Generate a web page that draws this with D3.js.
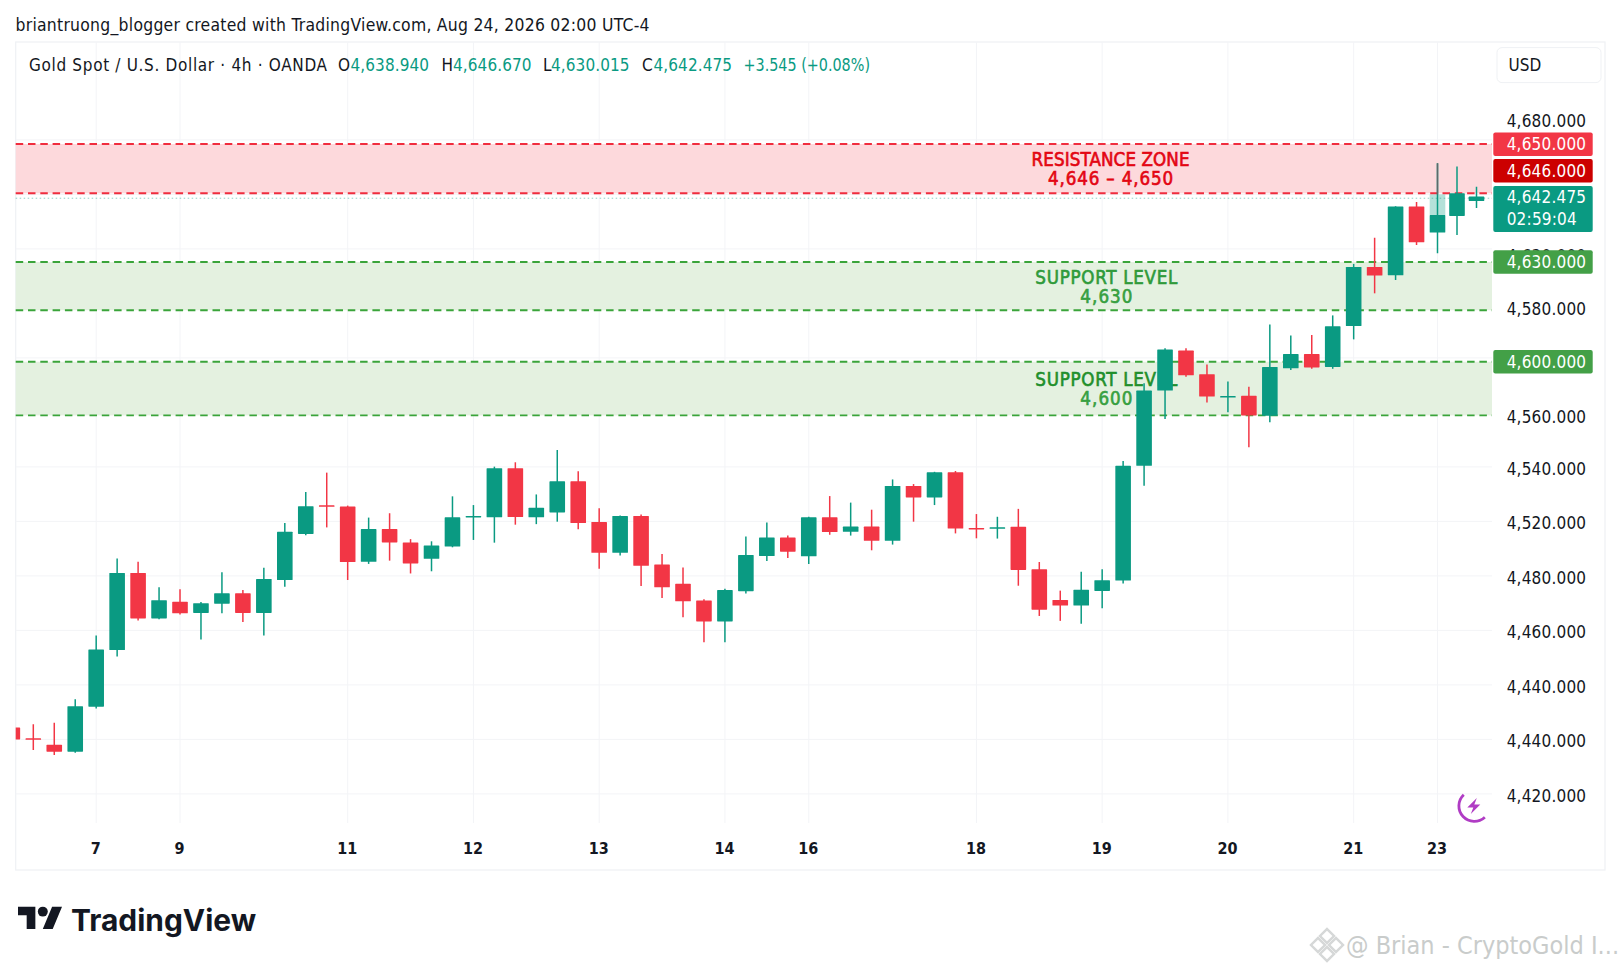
<!DOCTYPE html>
<html><head><meta charset="utf-8">
<style>
html,body{margin:0;padding:0;background:#fff}
svg{display:block}
text{font-family:"DejaVu Sans Condensed","DejaVu Sans",sans-serif;font-stretch:condensed}
</style>
<script src="https://cdn.jsdelivr.net/npm/d3@7/dist/d3.min.js"></script>
</head><body><svg id="c" width="1621" height="970"></svg>
<script>
// Candle values are on the chart's visual price scale.
const candleColor = ["r","r","r","g","g","g","r","g","r","g","g","r","g","g","g","r","r","g","r","r","g","g","g","g","r","g","g","r","r","g","r","r","r","r","g","g","g","r","g","r","g","r","g","r","g","r","r","g","r","r","r","g","g","g","g","g","r","r","g","r","g","g","r","g","g","r","g","r","g","g","g"];
const bodyTop = [4444.8,4440.8,4438.4,4452.6,4473.4,4501.5,4501.5,4491.5,4490.9,4490.4,4494.0,4494.0,4499.3,4516.6,4526.0,4526.3,4525.9,4517.6,4517.6,4512.7,4511.6,4521.9,4522.4,4539.9,4539.9,4525.4,4535.1,4535.1,4520.2,4522.4,4522.4,4504.6,4497.5,4491.4,4495.2,4508.1,4514.5,4514.5,4521.9,4521.9,4518.5,4518.5,4533.4,4533.4,4538.4,4538.4,4518.0,4518.3,4518.4,4502.8,4491.6,4495.3,4498.8,4540.8,4568.4,4583.5,4583.1,4574.4,4566.4,4566.5,4577.1,4581.8,4581.8,4592.0,4613.8,4613.8,4636.0,4636.0,4632.8,4640.8,4639.6];
const bodyBottom = [4440.4,4440.4,4435.9,4435.9,4452.4,4473.2,4484.8,4484.8,4486.7,4486.8,4490.2,4486.8,4486.8,4498.9,4515.8,4525.8,4505.5,4505.6,4512.7,4505.0,4506.7,4511.2,4521.9,4521.9,4522.0,4521.9,4523.7,4519.8,4508.9,4508.9,4504.1,4496.2,4491.1,4483.7,4483.7,4494.8,4507.7,4509.3,4507.6,4516.5,4516.6,4513.3,4513.3,4529.2,4529.2,4517.8,4517.6,4517.7,4502.6,4488.0,4489.5,4489.5,4494.9,4498.7,4540.8,4568.4,4574.0,4566.2,4566.2,4559.3,4559.2,4576.6,4576.9,4577.1,4592.1,4610.6,4610.7,4622.8,4626.4,4632.5,4638.0];
const wickHigh = [4444.8,4446.0,4446.5,4455.1,4478.5,4506.8,4505.6,4496.2,4495.5,4490.8,4501.7,4495.2,4503.4,4519.8,4531.2,4538.3,4526.2,4521.8,4523.4,4513.9,4513.1,4529.6,4526.4,4540.5,4542.1,4530.3,4546.6,4538.8,4525.2,4522.6,4522.9,4508.4,4503.5,4491.8,4495.7,4514.9,4520.0,4515.2,4522.1,4529.7,4527.3,4524.7,4535.8,4534.1,4538.6,4538.9,4523.1,4522.1,4525.0,4505.5,4495.0,4501.9,4502.8,4542.6,4571.1,4583.9,4583.9,4578.0,4571.7,4569.8,4592.7,4588.6,4588.8,4596.0,4614.9,4624.5,4636.1,4637.6,4651.8,4650.6,4643.2];
const wickLow = [4440.4,4436.5,4434.7,4435.5,4451.7,4470.8,4484.0,4484.5,4486.2,4477.1,4486.7,4483.5,4478.5,4496.4,4515.3,4518.2,4498.9,4504.8,4506.0,4501.3,4502.1,4510.9,4513.6,4512.6,4519.2,4519.4,4520.3,4517.5,4503.0,4507.9,4496.7,4492.3,4485.2,4476.1,4476.1,4493.9,4505.9,4507.0,4504.8,4515.5,4515.2,4509.8,4511.9,4520.3,4526.4,4516.0,4514.2,4514.1,4496.8,4485.7,4483.9,4482.8,4488.5,4497.6,4533.5,4558.0,4573.5,4564.0,4560.5,4547.6,4556.8,4576.0,4576.4,4576.4,4587.2,4604.1,4609.0,4621.8,4618.8,4625.5,4635.4];

const timeTickIndex = [4,8,16,22,28,34,38,46,52,58,64,68];
const timeTickLabels = ["7","9","11","12","13","14","16","18","19","20","21","23"];
const gridPrices = [4420.4,4440.4,4460.4,4480.4,4500.4,4520.4,4540.4,4560.4,4580.4,4600.4,4620.4,4640.4,4660.4];
const axisPrices = [4420.4,4440.4,4460.4,4480.4,4500.4,4520.4,4540.4,4559.6,4599.2,4618.5,4667.9];
const axisLabels = ["4,420.000","4,440.000","4,440.000","4,460.000","4,480.000","4,520.000","4,540.000","4,560.000","4,580.000","4,630.000","4,680.000"];

const zoneTop = [4658.9,4615.6,4579.0];
const zoneBottom = [4640.8,4597.9,4559.3];
const zoneKind = ["res","sup","sup"];
const zoneTitle = ["RESISTANCE ZONE","SUPPORT LEVEL","SUPPORT LEVEL"];
const zoneValue = ["4,646 – 4,650","4,630","4,600"];
const zoneTitleColor = ["#e30613","#2f9a3a","#1f8f2b"];
const zoneValueColor = ["#e30613","#37a041","#37a041"];
const zoneTitleIndex = [52.4,52.2,52.2];

const tagPrice = [4658.8,4649.1,4615.6,4579.0];
const tagText = ["4,650.000","4,646.000","4,630.000","4,600.000"];
const tagColor = ["#f23645","#cc0000","#43a047","#43a047"];
const lastPrice = 4639;
const lastLabel = ["4,642.475","02:59:04"];
const lastTagTop = 4643.5, lastTagBottom = 4626.6;
const ghostTop = 4640.4, ghostBottom = 4632.8, ghostIndex = 68;

const headerLeft = "briantruong_blogger created with TradingView.com, Aug 24, 2026 02:00 UTC-4";
const symbolTitle = "Gold Spot / U.S. Dollar · 4h · OANDA";
const ohlcKeys = ["O","H","L","C"];
const ohlcValues = ["4,638.940","4,646.670","4,630.015","4,642.475"];
const ohlcChange = "+3.545 (+0.08%)";

const L=15.7,R=1605,T=42,B=870,AX=1492,PB=823;
const up="#0a9a82", dn="#f23645", ink="#131722", grid="#f3f4f7";
const svg=d3.select("#c");
const x=d3.scaleLinear().domain([0,68,70]).range([12.35,1437.5,1476.5]);
const y=d3.scaleLinear().domain([4420,4540]).range([795,468]);
const bw=15.6;
const n=candleColor.length;

svg.append("rect").attr("x",L).attr("y",T).attr("width",R-L).attr("height",B-T).attr("fill","#fff").attr("stroke","#eff1f4").attr("stroke-width",1.2);
svg.append("defs").append("clipPath").attr("id","pane").append("rect").attr("x",L).attr("y",T).attr("width",AX-L).attr("height",PB-T);

// grid
const g=svg.append("g").attr("stroke",grid).attr("stroke-width",1);
g.selectAll("line.h").data(gridPrices).join("line").attr("class","h").attr("x1",L).attr("x2",AX).attr("y1",d=>y(d)).attr("y2",d=>y(d));
g.selectAll("line.v").data(timeTickIndex).join("line").attr("class","v").attr("x1",d=>x(d)).attr("x2",d=>x(d)).attr("y1",T).attr("y2",PB);

// zones
const zones=d3.range(zoneTop.length);
const titleWidth=[158,142,142], valueWidth=[125,52,52];
const zg=svg.append("g");
zg.selectAll("rect").data(zones).join("rect").attr("x",L).attr("width",AX-L)
  .attr("y",i=>y(zoneTop[i])).attr("height",i=>y(zoneBottom[i])-y(zoneTop[i]))
  .attr("fill",i=>zoneKind[i]=="res"?"#fdd9dc":"#e4f1e0");
[zoneTop,zoneBottom].forEach(arr=>{
  zg.append("g").selectAll("line").data(zones).join("line").attr("x1",L).attr("x2",AX)
   .attr("y1",i=>y(arr[i])).attr("y2",i=>y(arr[i]))
   .attr("stroke",i=>zoneKind[i]=="res"?"#f02d3e":"#3aa43a").attr("stroke-width",1.9).attr("stroke-dasharray","7.5,4.8");
});
const labelStyle=s=>s.attr("text-anchor","middle").attr("font-size",18.6).attr("dominant-baseline","central").attr("stroke-width",.6).attr("lengthAdjust","spacing");
zg.selectAll("text.t").data(zones).join("text").attr("class","t").attr("x",i=>x(zoneTitleIndex[i])).attr("y",i=>(y(zoneTop[i])+y(zoneBottom[i]))/2-9)
  .call(labelStyle).attr("textLength",i=>titleWidth[i]).attr("fill",i=>zoneTitleColor[i]).attr("stroke",i=>zoneTitleColor[i]).text(i=>zoneTitle[i]);
zg.selectAll("text.v").data(zones).join("text").attr("class","v").attr("x",i=>x(zoneTitleIndex[i])).attr("y",i=>(y(zoneTop[i])+y(zoneBottom[i]))/2+10.3)
  .call(labelStyle).attr("textLength",i=>valueWidth[i]).attr("fill",i=>zoneValueColor[i]).attr("stroke",i=>zoneValueColor[i]).text(i=>zoneValue[i]);

// last price dotted
svg.append("line").attr("x1",L).attr("x2",AX).attr("y1",y(lastPrice)).attr("y2",y(lastPrice)).attr("stroke",up).attr("stroke-opacity",.45).attr("stroke-width",1).attr("stroke-dasharray","1.5,2.5");

// candles
const cg=svg.append("g").attr("clip-path","url(#pane)");
const idx=d3.range(n);
const col=i=>candleColor[i]=="g"?up:dn;
cg.append("rect").attr("x",x(ghostIndex)-bw/2).attr("width",bw).attr("y",y(ghostTop)).attr("height",y(ghostBottom)-y(ghostTop)).attr("fill",up).attr("opacity",.3);
cg.selectAll("line").data(idx).join("line").attr("x1",i=>x(i)).attr("x2",i=>x(i)).attr("y1",i=>y(wickHigh[i])).attr("y2",i=>y(wickLow[i])).attr("stroke",col).attr("stroke-width",1.5);
cg.append("line").attr("x1",x(ghostIndex)).attr("x2",x(ghostIndex)).attr("y1",y(wickHigh[ghostIndex])).attr("y2",y(ghostTop)).attr("stroke","#5c6a6a").attr("stroke-width",1.5);
cg.selectAll("rect.b").data(idx).join("rect").attr("class","b").attr("x",i=>x(i)-bw/2).attr("width",bw).attr("y",i=>y(bodyTop[i])).attr("height",i=>Math.max(1.5,y(bodyBottom[i])-y(bodyTop[i]))).attr("fill",col).attr("rx",.6);

// axes
const yAxis=svg.append("g").attr("transform",`translate(${AX},2)`).call(d3.axisRight(y).tickValues(axisPrices).tickFormat((d,i)=>axisLabels[i]).tickSize(0).tickPadding(14.7));
yAxis.select(".domain").remove();
yAxis.selectAll("text").attr("font-size",17).attr("fill",ink).style("letter-spacing",".2px");
yAxis.attr("font-family",null);
const xAxis=svg.append("g").attr("transform",`translate(-1,${PB})`).call(d3.axisBottom(x).tickValues(timeTickIndex).tickFormat((d,i)=>timeTickLabels[i]).tickSize(0).tickPadding(20));
xAxis.select(".domain").remove();
xAxis.attr("font-family",null);
xAxis.selectAll("text").attr("font-size",16).attr("font-weight",700).attr("fill",ink);

// price tags
const tg=svg.append("g");
tg.selectAll("rect").data(tagPrice).join("rect").attr("x",1493.3).attr("width",99.4).attr("y",d=>y(d)-11.7).attr("height",23.4).attr("rx",2).attr("fill",(d,i)=>tagColor[i]);
tg.selectAll("text").data(tagPrice).join("text").attr("x",1506.7).attr("y",d=>y(d)).attr("dominant-baseline","central").attr("font-size",17).attr("fill","#fff").style("letter-spacing",".2px").text((d,i)=>tagText[i]);
svg.append("rect").attr("x",1493.3).attr("width",99.4).attr("y",y(lastTagTop)).attr("height",y(lastTagBottom)-y(lastTagTop)).attr("rx",2).attr("fill",up);
svg.selectAll("text.last").data(lastLabel).join("text").attr("class","last").attr("x",1506.7).attr("y",(d,i)=>197.3+i*22).attr("dominant-baseline","central").attr("font-size",17).attr("fill","#fff").style("letter-spacing",".2px").text(d=>d);

// header
svg.append("text").attr("x",15.5).attr("y",25).attr("dominant-baseline","central").attr("font-size",17.4).attr("fill",ink).attr("textLength",634).attr("lengthAdjust","spacing").text(headerLeft);
const hdr=svg.append("g").attr("font-size",17);
hdr.append("text").attr("x",29).attr("y",65).attr("dominant-baseline","central").attr("fill",ink).attr("textLength",298).attr("lengthAdjust","spacing").text(symbolTitle);
const keyX=[338,441.5,543,642], valX=[350.5,453,551,653.5];
hdr.selectAll("text.k").data(ohlcKeys).join("text").attr("class","k").attr("x",(d,i)=>keyX[i]).attr("y",65).attr("dominant-baseline","central").attr("fill",ink).text(d=>d);
hdr.selectAll("text.n").data(ohlcValues).join("text").attr("class","n").attr("x",(d,i)=>valX[i]).attr("y",65).attr("dominant-baseline","central").attr("fill",up).attr("textLength",78.5).attr("lengthAdjust","spacing").text(d=>d);
hdr.append("text").attr("x",743.5).attr("y",65).attr("dominant-baseline","central").attr("fill",up).attr("textLength",126.5).attr("lengthAdjust","spacingAndGlyphs").text(ohlcChange);

// currency
svg.append("rect").attr("x",1497).attr("y",47.6).attr("width",104).attr("height",35).attr("rx",5).attr("fill","#fff").attr("stroke","#eff1f4");
svg.append("text").attr("x",1508.6).attr("y",65).attr("dominant-baseline","central").attr("font-size",17).attr("fill",ink).text("USD");

// lightning icon
const ic=svg.append("g").attr("transform","translate(1474.3,806)");
ic.append("path").attr("d",d3.arc()({innerRadius:14,outerRadius:16.8,startAngle:Math.PI*0.76,endAngle:Math.PI*1.76})).attr("fill","#b03cc4");
ic.append("path").attr("d","M2.5,-8 L-7,1.5 L-1,1.5 L-3.5,8 L6,-1.5 L0,-1.5 Z").attr("fill","#b03cc4");

// logo
const lg=svg.append("g").attr("transform","translate(18,901.7) scale(1.24)").attr("fill","#131722");
lg.append("path").attr("d","M14 22H7V11H0V4h14v18zM28 22h-8l7.5-18h8L28 22z");
lg.append("circle").attr("cx",20).attr("cy",8).attr("r",4);
svg.append("text").attr("x",71).attr("y",919.5).attr("dominant-baseline","central").attr("font-size",29.9).attr("font-weight",700).attr("fill","#131722").style("font-family","Inter").style("font-stretch","normal").text("TradingView");

// watermark
const wm=svg.append("g").attr("transform","translate(1327,945)").attr("fill","none").attr("stroke","#d6d8d8").attr("stroke-width",2.4);
[[0,-9],[-9,0],[9,0],[0,9]].forEach(p=>wm.append("rect").attr("x",p[0]-5).attr("y",p[1]-5).attr("width",10).attr("height",10).attr("transform",`rotate(45 ${p[0]} ${p[1]})`));
svg.append("text").attr("x",1346).attr("y",945).attr("dominant-baseline","central").attr("font-size",25).attr("fill","#c9cccb").text("@ Brian - CryptoGold I...");
</script></body></html>
